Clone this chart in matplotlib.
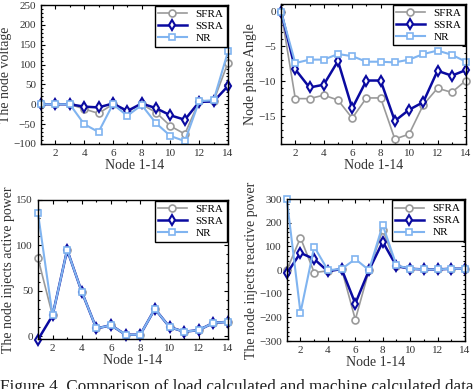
import matplotlib.pyplot as plt
import numpy as np
from matplotlib.ticker import AutoMinorLocator

plt.rcParams['font.family'] = ['Liberation Serif', 'DejaVu Serif']

nodes = np.arange(1, 15)

# node voltage
volt_sfra = [0, 0, 0, -12, -23, 0, -18, 0, -21, -55, -75, 8, 8, 105]
volt_ssra = [0, 0, 0, -6, -8, 2, -17, 2, -10, -28, -39, 6, 7, 46]
volt_nr = [0, 0, 0, -50, -70, 0, -29, -2, -48, -80, -93, 8, 10, 133]

# phase angle
ang_sfra = [0, -12.5, -12.5, -12.0, -12.7, -15.3, -12.4, -12.4, -18.3, -17.6, -13.4, -11.0, -11.6, -9.9]
ang_ssra = [0, -8.3, -10.9, -10.5, -7.1, -13.9, -9.9, -9.9, -15.7, -14.1, -13.0, -8.5, -9.2, -8.4]
ang_nr = [0, -7.4, -6.9, -6.9, -6.1, -6.4, -7.2, -7.2, -7.3, -6.9, -6.1, -5.6, -6.2, -7.2]

# active power
p_sfra = [86, 22.7, 95, 48.7, 8.4, 12, 1.5, 1.5, 30, 10, 4.8, 6.6, 14.6, 15.7]
p_ssra = [-4, 22.7, 95, 48.7, 8.4, 12, 1.5, 1.5, 30, 10, 4.8, 6.6, 14.6, 15.7]
p_nr = [136, 22.7, 95, 48.7, 8.4, 12, 1.5, 1.5, 30, 10, 4.8, 6.6, 14.6, 15.7]

# reactive power
q_sfra = [0, 137, -10, -3, 5, -209, 0, 170, 18, 6, 3, 3, 6, 6]
q_ssra = [-14, 73, 47, -5, 5, -141, 0, 120, 17, 6, 3, 3, 6, 6]
q_nr = [300, -180, 99, 0, 5, 47, 0, 191, 20, 6, 3, 3, 6, 6]

c_sfra, c_ssra, c_nr = '#9a9a9a', '#0a0aa0', '#80b4f0'

fig = plt.figure(figsize=(4.74, 3.89), dpi=100)

panels = [
    ([0.0865, 0.630, 0.3945, 0.357], volt_sfra, volt_ssra, volt_nr,
     'The node voltage', (-100, 250), np.arange(-100, 251, 50)),
    ([0.593, 0.630, 0.390, 0.360], ang_sfra, ang_ssra, ang_nr,
     'Node phase Angle', (-19, 1.1), [-15, -10, -5, 0]),
    ([0.080, 0.129, 0.401, 0.357], p_sfra, p_ssra, p_nr,
     'The node injects active power', (-3, 150), [0, 50, 100, 150]),
    ([0.605, 0.123, 0.376, 0.365], q_sfra, q_ssra, q_nr,
     'The node injects reactive power', (-300, 300), np.arange(-300, 301, 100)),
]

for rect, s1, s2, s3, ylab, ylim, yt in panels:
    ax = fig.add_axes(rect)
    ax.plot(nodes, s1, '-o', color=c_sfra, lw=1.2, ms=5, mfc='white',
            mew=1.2, label='SFRA', clip_on=False)
    ax.plot(nodes, s2, '-d', color=c_ssra, lw=1.8, ms=5.5, mfc='white',
            mew=1.5, label='SSRA', clip_on=False)
    ax.plot(nodes, s3, '-s', color=c_nr, lw=1.5, ms=5, mfc='white',
            mew=1.2, label='NR', clip_on=False)
    ax.set_xlim(1, 14)
    ax.set_ylim(*ylim)
    ax.set_xticks(range(2, 15, 2))
    ax.set_yticks(yt)
    ax.xaxis.set_minor_locator(AutoMinorLocator(2))
    ax.yaxis.set_minor_locator(AutoMinorLocator(5))
    ax.tick_params(which='both', direction='in', top=True, right=True,
                   labelsize=8, labelcolor='#333333', width=0.8)
    ax.tick_params(which='major', length=3)
    ax.tick_params(which='minor', length=1.5)
    for sp in ax.spines.values():
        sp.set_linewidth(1.0)
    ax.set_xlabel('Node 1-14', fontsize=10, color='#333333', labelpad=1)
    ax.set_ylabel(ylab, fontsize=10, color='#333333', labelpad=1)
    leg = ax.legend(loc='upper right', fontsize=8, fancybox=False,
                    framealpha=1, edgecolor='black', borderpad=0.3,
                    labelspacing=0.2, handlelength=2.6, borderaxespad=0.1)
    leg.get_frame().set_linewidth(1.0)

# caption, cut off by the bottom edge as in the source
fig.text(0.0, 10 / 389, 'Figure 4. Comparison of load calculated and machine calculated data i',
         fontsize=12.3, va='top', ha='left', color='#222222')

fig.savefig('out.png', dpi=100)
